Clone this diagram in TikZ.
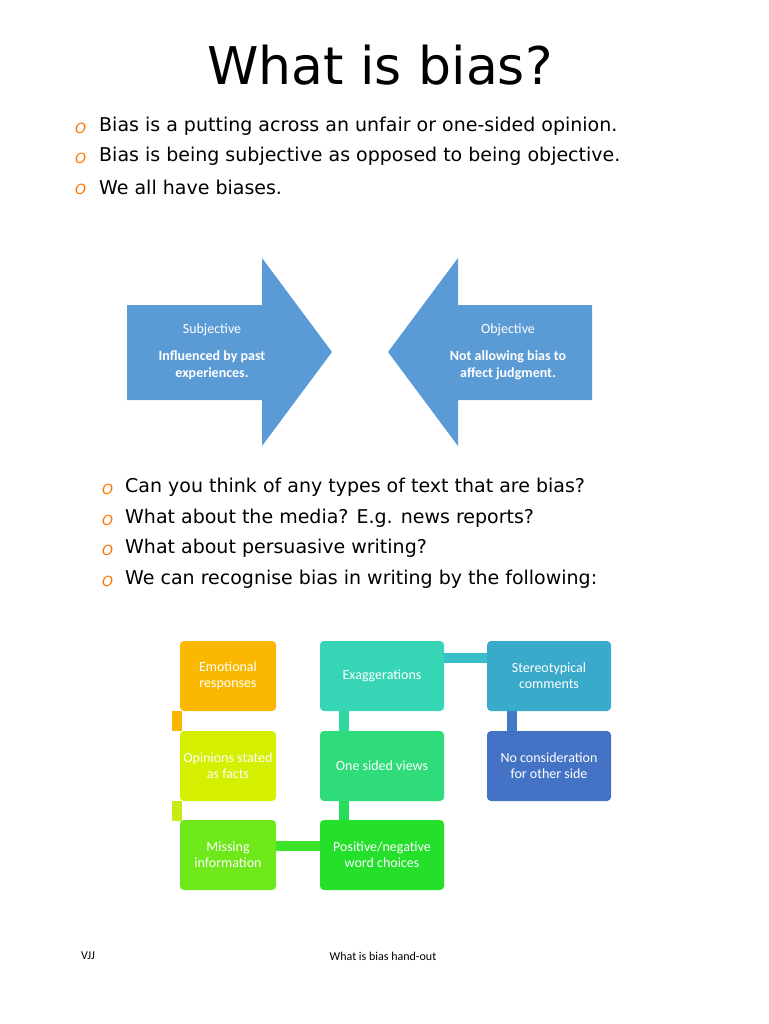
\documentclass[tikz,border=0pt]{standalone}
\usepackage{fontspec}
\setmainfont{DejaVu Sans}
\newfontfamily\calfont{Carlito}
\begin{document}
\begin{tikzpicture}[x=1pt,y=-1pt,
  bul/.style={anchor=west,font=\fontsize{19}{22}\selectfont,inner sep=0},
  mk/.style={anchor=west,text=orange!90!red,font=\fontsize{14}{16}\selectfont\itshape,inner sep=0},
  arr/.style={fill={rgb,255:red,91;green,155;blue,213}},
  atxt/.style={text=white,font=\calfont\fontsize{14}{17}\selectfont,align=center},
  bx/.style={rounded corners=4pt,minimum width=96pt,minimum height=70pt,text=white,align=center,font=\calfont\fontsize{14}{16}\selectfont,inner sep=2pt},
  bx2/.style={bx,minimum width=124pt},
  lk/.style={line width=10pt}]
\useasboundingbox (0,0) rectangle (768,1024);
\node (title) at (380,65) {\fontsize{52}{60}\selectfont What is bias?};
\foreach \y/\t [count=\i] in {126/Bias is a putting across an unfair or one-sided opinion.,156/Bias is being subjective as opposed to being objective.,187/We all have biases.}{
  \node[mk] (m\i) at (75,\y+2) {O};
  \node[bul] (b\i) at (99,\y) {\t};}
\fill[arr] (127,305) -- (262,305) -- (262,258) -- (332,352) -- (262,446) -- (262,400) -- (127,400) -- cycle;
\fill[arr] (592,305) -- (458,305) -- (458,258) -- (388,352) -- (458,446) -- (458,400) -- (592,400) -- cycle;
\node[atxt] (subj) at (212,330) {Subjective};
\node[atxt] (subjd) at (212,365) {\bfseries Influenced by past\\\bfseries experiences.};
\node[atxt] (obj) at (508,330) {Objective};
\node[atxt] (objd) at (508,365) {\bfseries Not allowing bias to\\\bfseries affect judgment.};
\foreach \y/\t [count=\i] in {487/Can you think of any types of text that are bias?,518/What about the media? E.g. news reports?,548/What about persuasive writing?,579/We can recognise bias in writing by the following:}{
  \node[mk] (n\i) at (102,\y+2) {O};
  \node[bul] (c\i) at (125,\y) {\t};}
% connectors
\draw[lk,draw={rgb,255:red,249;green,183;blue,0}] (177,711) -- (177,731);
\draw[lk,draw={rgb,255:red,200;green,235;blue,20}] (177,801) -- (177,821);
\draw[lk,draw={rgb,255:red,60;green,228;blue,40}] (276,846) -- (320,846);
\draw[lk,draw={rgb,255:red,40;green,220;blue,90}] (344,801) -- (344,821);
\draw[lk,draw={rgb,255:red,50;green,215;blue,160}] (344,711) -- (344,731);
\draw[lk,draw={rgb,255:red,55;green,190;blue,200}] (444,658) -- (487,658);
\draw[lk,draw={rgb,255:red,68;green,120;blue,200}] (512,711) -- (512,731);
\node[bx,fill={rgb,255:red,250;green,185;blue,0}] (e1) at (228,676) {Emotional\\responses};
\node[bx,fill={rgb,255:red,212;green,240;blue,0}] (e2) at (228,766) {Opinions stated\\as facts};
\node[bx,fill={rgb,255:red,110;green,232;blue,26}] (e3) at (228,855) {Missing\\information};
\node[bx2,fill={rgb,255:red,36;green,224;blue,42}] (p3) at (382,855) {Positive/negative\\word choices};
\node[bx2,fill={rgb,255:red,46;green,220;blue,122}] (p2) at (382,766) {One sided views};
\node[bx2,fill={rgb,255:red,53;green,213;blue,181}] (p1) at (382,676) {Exaggerations};
\node[bx2,fill={rgb,255:red,58;green,170;blue,203}] (s1) at (549,676) {Stereotypical\\comments};
\node[bx2,fill={rgb,255:red,68;green,114;blue,196}] (s2) at (549,766) {No consideration\\for other side};
\node[font=\calfont\fontsize{12}{14}\selectfont] (f1) at (88,956) {VJJ};
\node[font=\calfont\fontsize{12}{14}\selectfont] (f2) at (383,956) {What is bias hand-out};
\end{tikzpicture}
\end{document}
